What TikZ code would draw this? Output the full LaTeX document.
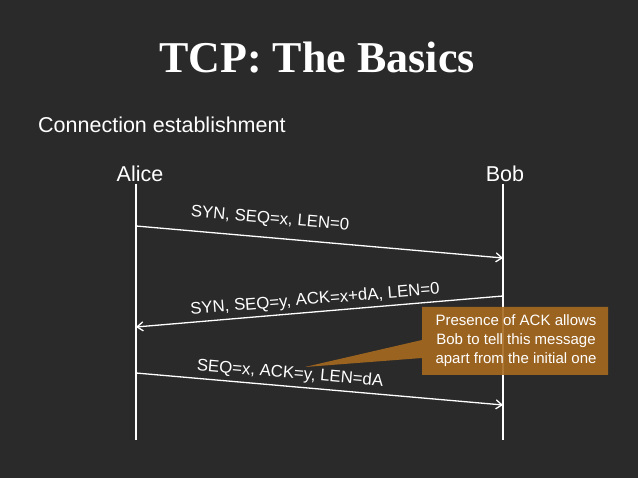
\documentclass[tikz,border=0pt]{standalone}
\usepackage{fontspec}
\usetikzlibrary{arrows.meta}
\setmainfont{Liberation Sans}
\newfontfamily\titlefont{Liberation Serif}
\begin{document}
\begin{tikzpicture}[x=1pt,y=-1pt,
  wl/.style={white,line width=1.3pt},
  msg/.style={wl,-{Straight Barb[length=6pt,width=9pt]}},
  lbl/.style={text=white,font=\fontsize{16.8}{18}\selectfont,inner sep=0pt}]
\fill[fill={rgb,255:red,42;green,42;blue,42}] (0,0) rectangle (638,478);
\useasboundingbox (0,0) rectangle (638,478);
\node[text=white,font=\titlefont\bfseries\fontsize{44}{48}\selectfont] (title) at (317,58) {TCP: The Basics};
\node[text=white,anchor=west,font=\fontsize{21.5}{24}\selectfont,inner sep=0pt] (sub) at (38,125) {Connection establishment};
\node[text=white,font=\fontsize{21.5}{24}\selectfont,inner sep=0pt] (alice) at (140,174) {Alice};
\node[text=white,font=\fontsize{21.5}{24}\selectfont,inner sep=0pt] (bob) at (505,174) {Bob};
\coordinate (at) at (136,184); \coordinate (ab) at (136,440);
\coordinate (bt) at (503,184); \coordinate (bb) at (503,440);
\draw[wl] (at) -- (ab);
\draw[wl] (bt) -- (bb);
\coordinate (a1) at (136,226); \coordinate (b1) at (503,258);
\coordinate (b2) at (503,296); \coordinate (a2) at (136,327);
\coordinate (a3) at (136,373); \coordinate (b3) at (503,405);
\draw[msg] (a1) -- (b1);
\draw[msg] (b2) -- (a2);
\draw[msg] (a3) -- (b3);
\node[lbl,rotate=-5] (l1) at (270,219) {SYN, SEQ=x, LEN=0};
\node[lbl,rotate=4.7] (l2) at (315,300) {SYN, SEQ=y, ACK=x+dA, LEN=0};
\node[lbl,rotate=-5] (l3) at (290,374) {SEQ=x, ACK=y, LEN=dA};
\fill[fill={rgb,255:red,168;green,106;blue,32},fill opacity=0.9]
  (422,307) -- (608,307) -- (608,375) -- (422,375) -- (422,358) -- (305,367) -- (422,340) -- cycle;
\node[text=white,font=\fontsize{15}{19}\selectfont,align=center,inner sep=0pt] (note) at (516,341)
  {Presence of ACK allows\\Bob to tell this message\\apart from the initial one};
\end{tikzpicture}
\end{document}
